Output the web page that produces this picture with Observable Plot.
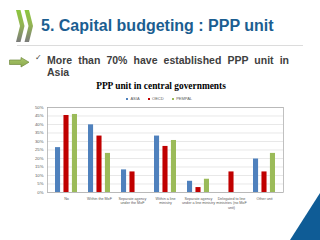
<!DOCTYPE html>
<html><head><meta charset="utf-8">
<script src="https://cdn.jsdelivr.net/npm/d3@7"></script>
<script src="https://cdn.jsdelivr.net/npm/@observablehq/plot@0.6"></script>
<style>
html,body{margin:0;padding:0;width:320px;height:240px;overflow:hidden;background:#fff;font-family:"Liberation Sans",Arial,sans-serif;}
#slide{position:relative;width:320px;height:240px;}
.abs{position:absolute;}
#title{left:41px;top:17px;font-size:16px;line-height:18px;font-weight:bold;color:#1b5e91;white-space:nowrap;}
#sep{left:17px;top:45px;width:286px;height:1px;background:#dcdcdc;}
#bul1{left:47px;top:54px;width:242px;font-size:10.5px;line-height:12px;font-weight:bold;color:#404040;text-align:justify;text-align-last:justify;white-space:nowrap;}
#bul2{left:47px;top:66px;font-size:10.5px;line-height:12px;font-weight:bold;color:#404040;}
#check{left:35px;top:53px;font-size:8px;line-height:10px;color:#404040;font-family:"DejaVu Sans",sans-serif;}
#ctitle{left:0;width:322px;top:81px;text-align:center;font-family:"Liberation Serif",serif;font-weight:bold;font-size:9.4px;line-height:11px;color:#000;}
#legend{left:0;width:318px;top:96px;display:flex;justify-content:center;gap:8px;font-size:4px;line-height:5px;color:#595959;}
#legend span.sw{display:inline-block;width:2.5px;height:2.5px;margin-right:2px;vertical-align:middle;}
#chart{left:0;top:100px;}
</style></head>
<body>
<div id="slide">
<svg class="abs" style="left:0;top:0" width="320" height="240">
  <defs>
    <linearGradient id="lg" x1="0" y1="0" x2="0" y2="1">
      <stop offset="0" stop-color="#8cc63e"/>
      <stop offset="0.45" stop-color="#93b552"/>
      <stop offset="1" stop-color="#7b7b7b"/>
    </linearGradient>
    <linearGradient id="ag" x1="0" y1="0" x2="0" y2="1">
      <stop offset="0" stop-color="#a9c76a"/>
      <stop offset="1" stop-color="#8aa84c"/>
    </linearGradient>
  </defs>
  <polygon points="16,10 20.5,10 24.5,26 20.5,42 16,42 20,26" fill="url(#lg)"/>
  <polygon points="24.5,10 29,10 33,26 29,42 24.5,42 28.5,26" fill="url(#lg)"/>
  <polygon points="9.5,60 21,60 21,57.5 29,62.2 21,67 21,64.5 9.5,64.5" fill="url(#ag)" stroke="#71893f" stroke-width="0.7"/>
  <polygon points="290,240 320,193 320,240" fill="#0f5c96"/>
</svg>
<div id="title" class="abs">5. Capital budgeting : PPP unit</div>
<div id="sep" class="abs"></div>
<div id="check" class="abs">✓</div>
<div id="bul1" class="abs">More than 70% have established PPP unit in</div>
<div id="bul2" class="abs">Asia</div>
<div id="ctitle" class="abs">PPP unit in central governments</div>
<div id="legend" class="abs"></div>
<div id="chart" class="abs"></div>
</div>
<script>
const categories = ["No", "Within the MoF", "Separate agency\nunder the MoF", "Within a line\nministry", "Separate agency\nunder a line ministry", "Delegated to line\nministries (no MoF\nunit)", "Other unit"];
const seriesNames = ["ASIA", "OECD", "PEMPAL"];
const seriesColors = ["#4f81bd", "#c00000", "#9bbb59"];
const asia   = [26.4, 39.8, 13.3, 33.2, 6.6, 0, 19.7];
const oecd   = [45.3, 33.2, 12.1, 27.1, 2.9, 12.1, 12.1];
const pempal = [45.9, 23.0, 0, 30.6, 7.8, 0, 23.0];
const yTicks = [0, 5, 10, 15, 20, 25, 30, 35, 40, 45, 50];

const seriesValues = [asia, oecd, pempal];
const rows = seriesValues.map(vals => categories.map((c, i) => ({category: c, value: vals[i]})));

// legend
const leg = document.getElementById("legend");
seriesNames.forEach((n, i) => {
  const s = document.createElement("span");
  s.innerHTML = `<span class="sw" style="background:${seriesColors[i]}"></span>${n}`;
  leg.appendChild(s);
});

const barW = 6, step = 8.46, band = 22.92;
const insets = [[0, band - barW], [step, band - step - barW], [2 * step, 0]];

const chart = Plot.plot({
  width: 320,
  height: 115,
  marginTop: 7,
  marginBottom: 23,
  marginLeft: 47,
  marginRight: 37,
  style: {fontSize: "4.3px", color: "#595959", fontFamily: "Liberation Sans, Arial, sans-serif", background: "transparent", overflow: "visible"},
  x: {domain: categories, paddingInner: 0.32, paddingOuter: 0.16, axis: null},
  y: {domain: [0, 50], ticks: yTicks, tickFormat: d => d + "%", tickSize: 0, tickPadding: 4, label: null},
  marks: [
    Plot.ruleY(yTicks, {stroke: "#d9d9d9", strokeWidth: 0.6}),
    ...rows.map((data, i) => Plot.barY(data, {
      x: "category", y: "value", fill: seriesColors[i],
      insetLeft: insets[i][0], insetRight: insets[i][1]
    })),
    Plot.frame({stroke: "#a6a6a6", strokeWidth: 0.7}),
    Plot.text(categories, {x: d => d, text: d => d, frameAnchor: "bottom", lineAnchor: "top", dy: 4, fontSize: 3.7, fill: "#595959", lineHeight: 1.2})
  ]
});
document.getElementById("chart").appendChild(chart);
</script>
</body></html>
